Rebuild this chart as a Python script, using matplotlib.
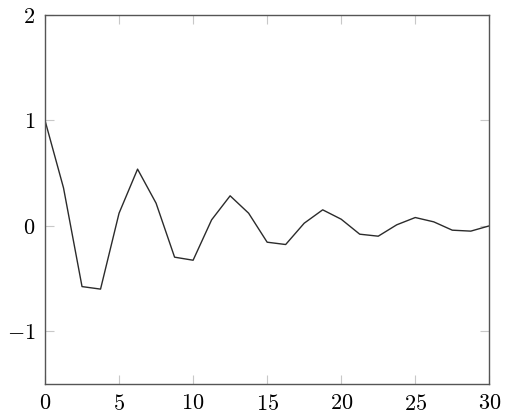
import matplotlib
matplotlib.use("Agg")
import matplotlib.pyplot as plt
from matplotlib.ticker import FixedLocator

plt.rcParams['mathtext.fontset'] = 'cm'
plt.rcParams['font.family'] = 'serif'
plt.rcParams['font.serif'] = ['cmr10', 'DejaVu Serif']
plt.rcParams['axes.formatter.use_mathtext'] = True

x = [0, 1.25, 2.5, 3.75, 5, 6.25, 7.5, 8.75, 10, 11.25, 12.5, 13.75, 15,
     16.25, 17.5, 18.75, 20, 21.25, 22.5, 23.75, 25, 26.25, 27.5, 28.75, 30]
y = [1.0, 0.36, -0.576, -0.60, 0.12, 0.538, 0.215, -0.297, -0.326, 0.057,
     0.285, 0.12, -0.155, -0.177, 0.025, 0.152, 0.063, -0.079, -0.098, 0.01,
     0.079, 0.038, -0.041, -0.05, 0.0]

xticks = [0, 5, 10, 15, 20, 25, 30]
yticks = [-1, 0, 1, 2]

fig = plt.figure(figsize=(5.09, 4.15), dpi=100)
ax = fig.add_axes([45/509, 1-384/415, (489.3-45)/509, (384-15)/415])
ax.plot(x, y, color='#2b2b2b', linewidth=1.0)
ax.set_xlim(0, 30)
ax.set_ylim(-1.5, 2)
ax.xaxis.set_major_locator(FixedLocator(xticks))
ax.yaxis.set_major_locator(FixedLocator(yticks))
ax.set_xticklabels([f'${t}$' for t in xticks])
ax.set_yticklabels([f'${t}$' if t >= 0 else f'$-{abs(t)}$' for t in yticks])
ax.tick_params(direction='in', length=6.5, width=0.8, color='#c8c8c8',
               labelsize=16, pad=7, top=True, right=True, labelcolor='black')
for s in ax.spines.values():
    s.set_color('#555555')
    s.set_linewidth(1.0)
fig.savefig('out.png', dpi=100)
